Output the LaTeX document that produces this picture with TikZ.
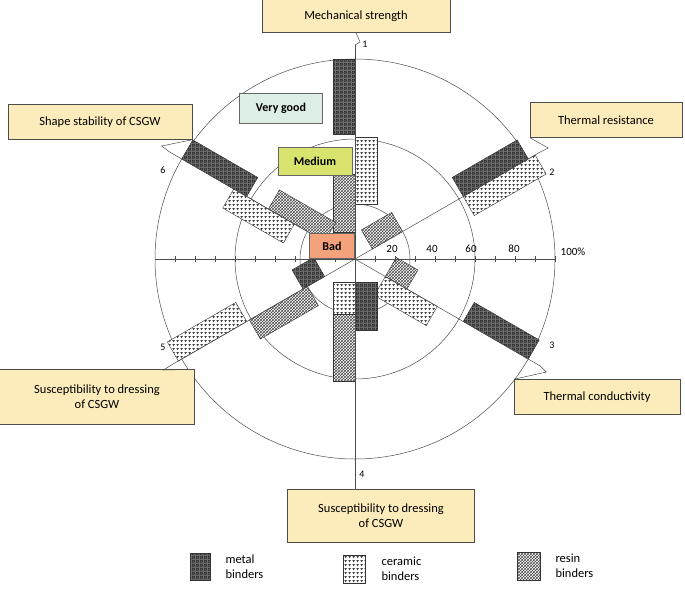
\documentclass[tikz,border=0pt]{standalone}
\usepackage{fontspec}
\setmainfont{Carlito}
\usetikzlibrary{patterns}
\pgfdeclarepatternformonly{tri}{\pgfpointorigin}{\pgfpoint{4pt}{4pt}}{\pgfpoint{4pt}{4pt}}{%
\pgfpathmoveto{\pgfpoint{0.4pt}{3.6pt}}\pgfpathlineto{\pgfpoint{3.6pt}{3.6pt}}\pgfpathlineto{\pgfpoint{2pt}{0.8pt}}\pgfpathclose\pgfusepath{fill}}
\pgfdeclarepatternformonly{weave}{\pgfpointorigin}{\pgfpoint{4pt}{4pt}}{\pgfpoint{4pt}{4pt}}{%
\pgfsetlinewidth{0.6pt}\pgfpathmoveto{\pgfpoint{0pt}{1pt}}\pgfpathlineto{\pgfpoint{4pt}{1pt}}\pgfpathmoveto{\pgfpoint{1pt}{0pt}}\pgfpathlineto{\pgfpoint{1pt}{4pt}}\pgfpathmoveto{\pgfpoint{0pt}{3pt}}\pgfpathlineto{\pgfpoint{2pt}{3pt}}\pgfpathmoveto{\pgfpoint{3pt}{1pt}}\pgfpathlineto{\pgfpoint{3pt}{4pt}}\pgfusepath{stroke}}
\definecolor{boxc}{HTML}{FCEBBB}
\definecolor{vg}{HTML}{DDEFE4}
\definecolor{med}{HTML}{D8E46E}
\definecolor{bad}{HTML}{F4A27C}
\tikzset{
 lab/.style={draw=black!70,fill=boxc,font=\fontsize{12.5}{15}\selectfont,inner sep=0pt,align=center},
 lvl/.style={draw=black!60,font=\bfseries\fontsize{12}{14}\selectfont,inner sep=0pt},
 metal/.style={draw=black!80,preaction={fill=black!55},pattern=weave,pattern color=black!90},
 ceramic/.style={draw=black!80,fill=white,postaction={pattern=tri,pattern color=black!75}},
 resin/.style={draw=black!80,preaction={fill=white},pattern=crosshatch,pattern color=black!70},
 ax/.style={draw=black!70,line width=0.5pt},
 num/.style={font=\fontsize{10}{12}\selectfont,inner sep=1pt},
}
\newcommand\drawbar[5]{\begin{scope}[rotate=#1]\path[#5] (#2,0) rectangle (#3,#4);\end{scope}}
\begin{document}
\begin{tikzpicture}[x=1pt,y=-1pt]
\useasboundingbox (0,0) rectangle (685,590);
\coordinate (C) at (355,259);
\draw[ax] (C) circle (200);
\draw[ax] (C) circle (120);
\draw[ax] (C) circle (55);
\begin{scope}[shift={(355,259)},x=1pt,y=1pt]
 \foreach \a/\n in {90/1,30/2,-30/3,-90/4,210/5,150/6}{
   \coordinate (e\n) at (\a:214);
 }
 \drawbar{90}{125}{200}{22}{metal}
 \drawbar{90}{55}{122}{-22}{ceramic}
 \drawbar{90}{27}{85}{22}{resin}
 \drawbar{30}{125}{200}{22}{metal}
 \drawbar{30}{125}{208}{-22}{ceramic}
 \drawbar{30}{20}{55}{22}{resin}
 \drawbar{-30}{125}{200}{22}{metal}
 \drawbar{-30}{35}{95}{-22}{ceramic}
 \drawbar{-30}{35}{60}{22}{resin}
 \drawbar{-90}{23}{71}{22}{metal}
 \drawbar{-90}{23}{55}{-22}{ceramic}
 \drawbar{-90}{55}{122}{-22}{resin}
 \drawbar{210}{125}{204}{-22}{ceramic}
 \drawbar{210}{55}{122}{22}{resin}
 \drawbar{210}{35}{60}{-22}{metal}
 \drawbar{150}{125}{200}{-22}{metal}
 \drawbar{150}{70}{140}{22}{ceramic}
 \drawbar{150}{35}{100}{-22}{resin}
\end{scope}
\foreach \n in {1,...,6}{\draw[ax] (C) -- (e\n);}
\draw[ax] (155,259) -- (555,259);
\foreach \i in {-9,...,10}{\draw[ax] (355+20*\i,256) -- (355+20*\i,262);}
\foreach \v/\x in {20/392,40/432,60/471,80/514}{\node[num,font=\fontsize{11}{13}\selectfont] at (\x,249) {\v};}
\node[num,font=\fontsize{11}{13}\selectfont] at (573,252) {100\%};
\node[num] at (365,44) {1};
\node[num] at (552,172) {2};
\node[num] at (552,345) {3};
\node[num] at (362,474) {4};
\node[num] at (163,347) {5};
\node[num] at (163,170) {6};
\node[lvl,fill=vg,minimum width=83,minimum height=30] (vg) at (281,108) {Very good};
\node[lvl,fill=med,minimum width=74,minimum height=28] (md) at (315,161) {Medium};
\node[lvl,fill=bad,minimum width=45,minimum height=25] (bd) at (332,246) {Bad};
\node[lab,minimum width=188,minimum height=33] (L1) at (356,16) {Mechanical strength};
\node[lab,minimum width=152,minimum height=35] (L2) at (606,120) {Thermal resistance};
\node[lab,minimum width=166,minimum height=35] (L3) at (597,397) {Thermal conductivity};
\node[lab,minimum width=187,minimum height=53] (L4) at (381,516) {Susceptibility to dressing\\of CSGW};
\node[lab,minimum width=195,minimum height=55] (L5) at (97,397) {Susceptibility to dressing\\of CSGW};
\node[lab,minimum width=184,minimum height=35] (L6) at (100,122) {Shape stability of CSGW};
\draw[ax] (e1) -- ++(5,-3) -- (L1.south);
\draw[ax] (e2) -- ++(8,-4) -- (L2.south west);
\draw[ax] (e3) -- ++(6,6) -- (L3.north west);
\draw[ax] (e4) -- (355,490);
\draw[ax] (e5) -- ++(-6,4) -- (L5.north east);
\draw[ax] (e6) -- ++(-8,-6) -- (L6.south east);
\path[metal] (190,553) rectangle (210,580);
\path[ceramic] (343,555) rectangle (365,583);
\path[resin] (517,552) rectangle (540,580);
\node[anchor=west,align=left,font=\fontsize{12.5}{15}\selectfont] at (222,567) {metal\\binders};
\node[anchor=west,align=left,font=\fontsize{12.5}{15}\selectfont] at (378,569) {ceramic\\binders};
\node[anchor=west,align=left,font=\fontsize{12.5}{15}\selectfont] at (552,566) {resin\\binders};
\end{tikzpicture}
\end{document}
